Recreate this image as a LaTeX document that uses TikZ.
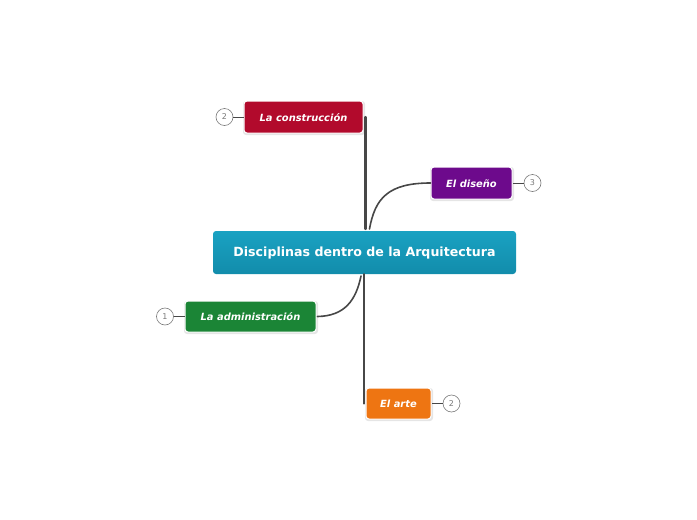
\documentclass[tikz,border=0pt]{standalone}
\usepackage{fontspec}
\setmainfont{DejaVu Sans}
\usetikzlibrary{calc}
\definecolor{ctealtop}{HTML}{1AA2C2}
\definecolor{ctealbot}{HTML}{128CAB}
\definecolor{cred}{HTML}{B20A2C}
\definecolor{cpurple}{HTML}{6D0A8C}
\definecolor{cgreen}{HTML}{1B8536}
\definecolor{corange}{HTML}{EE7512}
\definecolor{cline}{HTML}{474747}
\definecolor{ccirc}{HTML}{7A7A7A}
\tikzset{
  x=1pt,y=-1pt,
  topic/.style={rounded corners=3pt, draw=white, line width=1pt, text=white,
    font=\fontsize{9.9}{12}\selectfont\bfseries\itshape, inner sep=0pt,
    text height=0.93em, text depth=0.1em},
  central/.style={rounded corners=3pt, top color=ctealtop, bottom color=ctealbot,
    text=white, font=\fontsize{12.6}{14}\selectfont\bfseries, inner sep=0pt,
    minimum width=303pt, minimum height=43pt, text height=0.96em, text depth=0.1em},
  numc/.style={circle, draw=ccirc, fill=white, line width=0.6pt, minimum size=17pt,
    inner sep=0pt, text=ccirc, font=\fontsize{8}{9}\selectfont},
  conn/.style={draw=cline, line width=2.2pt, line cap=round},
  tick/.style={draw=cline, line width=1pt}
}
\begin{document}
\begin{tikzpicture}
\useasboundingbox (0,0) rectangle (697,520);
% shadows
\fill[black!10, rounded corners=3pt] (243,101) rectangle (365,135);
\fill[black!10, rounded corners=3pt] (430,167) rectangle (514,201);
\fill[black!10, rounded corners=3pt] (184,301) rectangle (318,334);
\fill[black!10, rounded corners=3pt] (365,388) rectangle (433,421);
% nodes
\node[central] (c) at (364.5,252.5) {Disciplinas dentro de la Arquitectura};
\node[topic, fill=cred, minimum width=119pt, minimum height=32pt] (cons) at (303.5,117) {La construcción};
\node[topic, fill=cpurple, minimum width=81pt, minimum height=32pt] (dis) at (471.5,183) {El diseño};
\node[topic, fill=cgreen, minimum width=131pt, minimum height=31pt] (adm) at (250.5,316.5) {La administración};
\node[topic, fill=corange, minimum width=65pt, minimum height=31pt] (art) at (398.5,403.5) {El arte};
% number circles
\node[numc] (n2a) at (224.5,117) {2};
\node[numc] (n3) at (532.5,183) {3};
\node[numc] (n1) at (165,316.5) {1};
\node[numc] (n2b) at (451.5,403.5) {2};
\draw[tick] (n2a) -- (cons);
\draw[tick] (n3) -- (dis);
\draw[tick] (n1) -- (adm);
\draw[tick] (n2b) -- (art);
% connectors
\coordinate (cs) at ($(cons.east)+(2,0)$);
\coordinate (ce) at (366,229);
\draw[conn] (cs) -- (cs |- ce);
\draw[conn, line width=1.6pt] (dis.west) .. controls ($(dis.west)+(-42,0)$) and (375,198) .. (369.5,229);
\draw[conn, line width=1.6pt] ($(adm.east)+(1,0)$) .. controls (345,316) and (356,300) .. (361,276);
\coordinate (as) at ($(art.west)+(-1.5,0)$);
\draw[conn] (as) -- (as |- c.south);
\end{tikzpicture}
\end{document}
